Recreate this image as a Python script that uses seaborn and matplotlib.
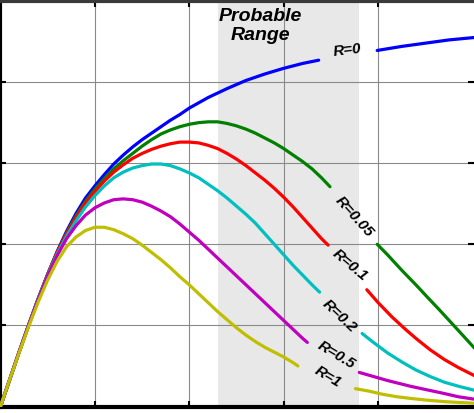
import numpy as np
import pandas as pd
import matplotlib
matplotlib.use("Agg")
import matplotlib.pyplot as plt
import seaborn as sns

# ---------------- data ----------------
r_labels = ["R=0", "R=0.05", "R=0.1", "R=0.2", "R=0.5", "R=1"]

r0_x1 = [0, 0.1, 0.2, 0.3, 0.4, 0.5, 0.6, 0.7, 0.8, 0.9, 1.0, 1.1, 1.2, 1.3, 1.4, 1.5, 1.6, 1.7,
         1.8, 1.9, 2.0, 2.2, 2.4, 2.6, 2.8, 3.0, 3.2, 3.37]
r0_y1 = [0, 0.34, 0.68, 1.01, 1.33, 1.63, 1.91, 2.16, 2.38, 2.57, 2.72, 2.86, 2.99, 3.10, 3.20,
         3.29, 3.37, 3.45, 3.53, 3.60, 3.68, 3.81, 3.92, 4.02, 4.10, 4.17, 4.23, 4.27]
r0_x2 = [3.99, 4.25, 4.5, 4.75, 5.02]
r0_y2 = [4.39, 4.44, 4.48, 4.52, 4.55]

r005_x1 = [0, 0.1, 0.2, 0.3, 0.4, 0.5, 0.6, 0.7, 0.8, 0.9, 1.0, 1.1, 1.2, 1.3, 1.4, 1.5, 1.6, 1.7,
           1.8, 1.9, 2.0, 2.1, 2.2, 2.3, 2.4, 2.5, 2.6, 2.7, 2.8, 2.9, 3.0, 3.1, 3.2, 3.3, 3.4, 3.49]
r005_y1 = [0, 0.34, 0.68, 1.01, 1.33, 1.63, 1.90, 2.14, 2.35, 2.53, 2.68, 2.81, 2.93, 3.03, 3.12,
           3.21, 3.29, 3.36, 3.41, 3.45, 3.48, 3.50, 3.51, 3.51, 3.49, 3.46, 3.42, 3.37, 3.31,
           3.25, 3.18, 3.10, 3.02, 2.93, 2.82, 2.71]
r005_x2 = [3.99, 4.1, 4.25, 4.4, 4.52, 4.65, 4.8, 5.02]
r005_y2 = [2.0, 1.87, 1.68, 1.50, 1.35, 1.19, 1.00, 0.72]

r01_x1 = [0, 0.1, 0.2, 0.3, 0.4, 0.5, 0.6, 0.7, 0.8, 0.9, 1.0, 1.1, 1.2, 1.3, 1.4, 1.5, 1.6, 1.7,
          1.8, 1.9, 2.0, 2.1, 2.2, 2.3, 2.4, 2.5, 2.6, 2.7, 2.8, 2.9, 3.0, 3.1, 3.2, 3.3, 3.4, 3.47]
r01_y1 = [0, 0.34, 0.68, 1.01, 1.33, 1.63, 1.90, 2.13, 2.33, 2.51, 2.65, 2.78, 2.89, 2.98, 3.06,
          3.12, 3.17, 3.21, 3.24, 3.26, 3.26, 3.25, 3.22, 3.18, 3.12, 3.05, 2.97, 2.88, 2.79,
          2.69, 2.58, 2.46, 2.33, 2.20, 2.07, 1.99]
r01_x2 = [3.88, 4.0, 4.15, 4.3, 4.41, 4.55, 4.7, 4.85, 5.02]
r01_y2 = [1.44, 1.28, 1.10, 0.94, 0.83, 0.70, 0.58, 0.48, 0.38]

r02_x1 = [0, 0.1, 0.2, 0.3, 0.4, 0.5, 0.6, 0.7, 0.8, 0.9, 1.0, 1.1, 1.2, 1.3, 1.4, 1.5, 1.6, 1.7,
          1.8, 1.9, 2.0, 2.1, 2.2, 2.3, 2.4, 2.5, 2.6, 2.7, 2.8, 2.9, 3.0, 3.1, 3.2, 3.3, 3.38]
r02_y1 = [0, 0.34, 0.68, 1.01, 1.33, 1.62, 1.88, 2.10, 2.29, 2.46, 2.60, 2.72, 2.82, 2.89, 2.94,
          2.97, 2.99, 2.99, 2.97, 2.93, 2.88, 2.82, 2.74, 2.66, 2.57, 2.47, 2.37, 2.26, 2.13,
          2.00, 1.87, 1.74, 1.62, 1.50, 1.41]
r02_x2 = [3.83, 3.95, 4.1, 4.25, 4.4, 4.55, 4.7, 4.85, 5.02]
r02_y2 = [0.90, 0.79, 0.66, 0.55, 0.45, 0.37, 0.30, 0.25, 0.20]

r05_x1 = [0, 0.1, 0.2, 0.3, 0.4, 0.5, 0.6, 0.7, 0.8, 0.9, 1.0, 1.1, 1.2, 1.3, 1.4, 1.5, 1.6, 1.7,
          1.8, 1.9, 2.0, 2.1, 2.2, 2.3, 2.4, 2.5, 2.6, 2.7, 2.8, 2.9, 3.0, 3.1, 3.2, 3.25]
r05_y1 = [0, 0.34, 0.68, 1.01, 1.32, 1.61, 1.86, 2.07, 2.23, 2.36, 2.45, 2.51, 2.55, 2.56, 2.55,
          2.52, 2.47, 2.41, 2.34, 2.25, 2.15, 2.05, 1.94, 1.83, 1.72, 1.61, 1.50, 1.39, 1.28,
          1.17, 1.06, 0.95, 0.84, 0.79]
r05_x2 = [3.80, 3.95, 4.1, 4.34, 4.5, 4.7, 4.85, 5.02]
r05_y2 = [0.42, 0.37, 0.32, 0.25, 0.21, 0.16, 0.12, 0.09]

r1_x1 = [0, 0.1, 0.2, 0.3, 0.4, 0.5, 0.6, 0.7, 0.8, 0.9, 1.0, 1.1, 1.2, 1.3, 1.4, 1.5, 1.6, 1.7,
         1.8, 1.9, 2.0, 2.1, 2.2, 2.3, 2.4, 2.5, 2.6, 2.7, 2.8, 2.9, 3.0, 3.1, 3.15]
r1_y1 = [0, 0.34, 0.67, 0.99, 1.29, 1.56, 1.79, 1.97, 2.09, 2.17, 2.21, 2.21, 2.18, 2.13, 2.07,
         1.99, 1.90, 1.81, 1.71, 1.60, 1.50, 1.39, 1.28, 1.17, 1.07, 0.97, 0.88, 0.80, 0.73,
         0.67, 0.61, 0.54, 0.50]
r1_x2 = [3.76, 3.9, 4.05, 4.2, 4.34, 4.5, 4.7, 4.85, 5.02]
r1_y2 = [0.22, 0.19, 0.15, 0.12, 0.10, 0.08, 0.06, 0.05, 0.04]

probable_range = (2.30, 3.80)

# ---------------- build long table ----------------
segments = [
    ("R=0", r0_x1, r0_y1, r0_x2, r0_y2),
    ("R=0.05", r005_x1, r005_y1, r005_x2, r005_y2),
    ("R=0.1", r01_x1, r01_y1, r01_x2, r01_y2),
    ("R=0.2", r02_x1, r02_y1, r02_x2, r02_y2),
    ("R=0.5", r05_x1, r05_y1, r05_x2, r05_y2),
    ("R=1", r1_x1, r1_y1, r1_x2, r1_y2),
]
rows = []
for name, x1, y1, x2, y2 in segments:
    for xv, yv in zip(x1, y1):
        rows.append((name, name + "_a", xv, yv))
    for xv, yv in zip(x2, y2):
        rows.append((name, name + "_b", xv, yv))
df = pd.DataFrame(rows, columns=["R", "seg", "x", "y"])

palette = {
    "R=0": "#0000ff",
    "R=0.05": "#008000",
    "R=0.1": "#ff0000",
    "R=0.2": "#00bfbf",
    "R=0.5": "#bf00bf",
    "R=1": "#bfbf00",
}

# ---------------- figure ----------------
sns.set_style("white")
plt.rcParams["font.family"] = ["Liberation Sans", "DejaVu Sans"]

fig = plt.figure(figsize=(4.74, 4.14), dpi=100)
ax = fig.add_axes([0.001, 0.0157, 1.0, 0.9795])

ax.axvspan(*probable_range, color="#e8e8e8", zorder=0, lw=0)

sns.lineplot(data=df, x="x", y="y", hue="R", units="seg", estimator=None,
             sort=False, palette=palette, hue_order=r_labels, lw=2.3,
             legend=False, ax=ax, zorder=3)

ax.set_xlim(0, 5.02)
ax.set_ylim(0, 5)
ax.set_xticks([1, 2, 3, 4])
ax.set_yticks([1, 2, 3, 4])
ax.set_xticklabels([])
ax.set_yticklabels([])
ax.set_xlabel("")
ax.set_ylabel("")
ax.grid(True, color="#8a8a8a", lw=0.8, zorder=1)
ax.set_axisbelow(True)
ax.tick_params(direction="in", length=4, width=1.5, top=True, right=True,
               bottom=True, left=True, color="black")

for side in ["left", "bottom"]:
    ax.spines[side].set_color("black")
    ax.spines[side].set_linewidth(3)
ax.spines["top"].set_color("#3a3a3a")
ax.spines["top"].set_linewidth(3)
ax.spines["right"].set_visible(False)

font = dict(weight="bold", style="italic", color="black")
ax.text(2.75, 4.70, "Probable\nRange", ha="center", va="center",
        fontsize=14, linespacing=1.15, zorder=5, **font)

label_pos = {
    "R=0": (3.67, 4.40, 7),
    "R=0.05": (3.75, 2.35, -48),
    "R=0.1": (3.70, 1.75, -40),
    "R=0.2": (3.59, 1.13, -43),
    "R=0.5": (3.56, 0.64, -31),
    "R=1": (3.47, 0.38, -31),
}
for name in r_labels:
    lx, ly, rot = label_pos[name]
    ax.text(lx, ly, name, ha="center", va="center", rotation=rot,
            rotation_mode="anchor", fontsize=11, zorder=5, **font)

fig.savefig("out.png", dpi=100)
